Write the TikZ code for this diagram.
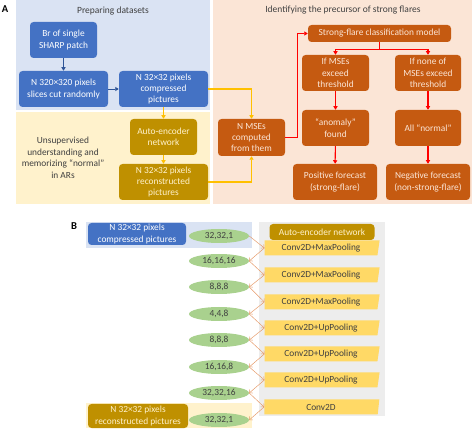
\documentclass[tikz,border=0pt]{standalone}
\usepackage{fontspec}
\setmainfont{Carlito}
\usetikzlibrary{arrows.meta,shapes.geometric,positioning}

\definecolor{bluebox}{HTML}{4472C4}
\definecolor{bluedark}{HTML}{2F5597}
\definecolor{bluebg}{HTML}{DAE3F3}
\definecolor{goldbox}{HTML}{BF9000}
\definecolor{yellowbg}{HTML}{FFF2CC}
\definecolor{brownbox}{HTML}{C55A11}
\definecolor{peachbg}{HTML}{FBE5D6}
\definecolor{ellgreen}{HTML}{A9D18E}
\definecolor{layergold}{HTML}{FFD966}
\definecolor{graybg}{HTML}{EDEDED}
\definecolor{redline}{HTML}{FF0000}
\definecolor{yellowline}{HTML}{FFC000}
\definecolor{orangeline}{HTML}{E59866}
\definecolor{darktext}{HTML}{404040}

\newlength\pu
\setlength\pu{0.03cm}
\newcommand\boxfont{\fontsize{8}{9.8}\selectfont}
\newcommand\titlefont{\fontsize{8.1}{9.8}\selectfont}

\begin{document}
\begin{tikzpicture}[x=0.03cm,y=-0.03cm,
    box/.style={rounded corners=3pt,inner sep=0pt,align=center,font=\boxfont,minimum height=36\pu},
    bbox/.style={box,fill=bluebox,text=white},
    gbox/.style={box,fill=goldbox,text=yellowbg},
    rbox/.style={box,fill=brownbox,text=peachbg},
    title/.style={font=\titlefont,text=darktext,align=center,inner sep=0pt},
    ell/.style={ellipse,fill=ellgreen,text=darktext,font=\boxfont,inner sep=0pt,minimum width=60\pu,minimum height=14\pu},
    layer/.style={trapezium,trapezium left angle=90,trapezium right angle=105,trapezium stretches body,
      fill=layergold,text=darktext,font=\boxfont,inner sep=0pt,minimum width=115\pu,minimum height=15\pu},
    barrow/.style={draw=bluedark,line width=0.8pt,-{Triangle[length=3pt,width=3.5pt]}},
    yarrow/.style={draw=yellowline,line width=0.9pt,-{Triangle[length=3pt,width=3.5pt]}},
    rarrow/.style={draw=redline,line width=0.9pt,-{Triangle[length=3pt,width=3.5pt]}},
    oarrow/.style={draw=orangeline,line width=0.4pt,-{Straight Barb[length=2pt,width=4pt]}}]
\useasboundingbox (0,0) rectangle (474,432);

% 背景
\fill[bluebg] (16,0) rectangle (210,110);
\fill[yellowbg] (16,112) rectangle (210,204);
\fill[peachbg] (213,0) rectangle (472,204);
\fill[bluebg] (86,222) rectangle (252,248);
\fill[yellowbg] (86,403) rectangle (252,428);
\fill[graybg] (259,222) rectangle (385,416);

% 标注A、B
\node[font=\bfseries\fontsize{9}{10}\selectfont,inner sep=0pt] (A) at (5,9) {A};
\node[font=\bfseries\fontsize{9}{10}\selectfont,inner sep=0pt] (B) at (74,226) {B};

% 标题
\node[title] (t1) at (113,11) {Preparing datasets};
\node[title] (t2) at (343,10) {Identifying the precursor of strong flares};
\node[title,font=\boxfont] (t3) at (63,158) {Unsupervised\\understanding and\\memorizing “normal”\\in ARs};

% 准备数据
\node[bbox,minimum width=67\pu] (br) at (63.5,40) {Br of single\\SHARP patch};
\node[bbox,minimum width=89\pu] (slices) at (63.5,89) {N 320×320 pixels\\slices cut randomly};
\node[bbox,minimum width=89\pu] (comp) at (163.5,89) {N 32×32 pixels\\compressed\\pictures};
\node[gbox,minimum width=67\pu] (ae) at (163.5,137) {Auto-encoder\\network};
\node[gbox,minimum width=89\pu] (recon) at (163.5,182) {N 32×32 pixels\\reconstructed\\pictures};
\draw[barrow] (br) -- (slices);
\draw[barrow] (slices) -- (comp);
\draw[yarrow] (comp) -- (ae);
\draw[yarrow] (ae) -- (recon);

% 识别强耀斑前兆
\node[rbox,minimum width=67\pu,minimum height=37\pu] (mse) at (251.5,137.5) {N MSEs\\computed\\from them};
\node[rbox,minimum width=143\pu,minimum height=17\pu] (cls) at (379.5,33.5) {Strong-flare classification model};
\node[rbox,minimum width=67\pu] (ifyes) at (335.5,73) {If MSEs\\exceed\\threshold};
\node[rbox,minimum width=66\pu] (ifno) at (428,73) {If none of\\MSEs exceed\\threshold};
\node[rbox,minimum width=67\pu] (anom) at (335.5,128) {“anomaly”\\found};
\node[rbox,minimum width=66\pu] (norm) at (428,128) {All “normal”};
\node[rbox,minimum width=84\pu] (pos) at (335,182) {Positive forecast\\(strong-flare)};
\node[rbox,minimum width=84\pu] (neg) at (428,182) {Negative forecast\\(non-strong-flare)};
\draw[yarrow] (comp.east) -| (mse.north);
\draw[yarrow] (recon.east) -| (mse.south);
\draw[rarrow] (mse.east) -- ++(12,0) |- (cls.west);
\draw[draw=redline,line width=0.9pt] (cls.south) -- ++(0,7) coordinate (sp);
\draw[rarrow] (sp) -| (ifyes.north);
\draw[rarrow] (sp) -| (ifno.north);
\draw[rarrow] (ifyes) -- (anom);
\draw[rarrow] (anom) -- (pos);
\draw[rarrow] (ifno) -- (norm);
\draw[rarrow] (norm) -- (neg);

% 自编码网络
\node[bbox,minimum width=98\pu,minimum height=22\pu] (bcomp) at (137,234) {N 32×32 pixels\\compressed pictures};
\node[gbox,minimum width=100\pu,minimum height=24\pu] (brecon) at (138,416) {N 32×32 pixels\\reconstructed pictures};
\node[gbox,minimum width=105\pu,minimum height=16\pu] (aenet) at (322,232) {Auto-encoder network};
\foreach \y/\t [count=\k from 0] in {236/{32,32,1},261/{16,16,16},287/{8,8,8},314/{4,4,8},
    340/{8,8,8},367/{16,16,8},393/{32,32,16},420/{32,32,1}}
  \node[ell] (e\k) at (219,\y) {\t};
\foreach \y/\t [count=\k] in {248/Conv2D+MaxPooling,275/Conv2D+MaxPooling,302/Conv2D+MaxPooling,
    328/Conv2D+UpPooling,354/Conv2D+UpPooling,380/Conv2D+UpPooling,407/Conv2D}
  \node[layer] (l\k) at (321,\y) {\t};
\foreach \k in {1,...,7}{
  \pgfmathtruncatemacro\j{\k-1}
  \draw[oarrow] (e\j.east) -- (l\k.west);
  \draw[oarrow] (l\k.west) -- (e\k.east);
}
\end{tikzpicture}
\end{document}
